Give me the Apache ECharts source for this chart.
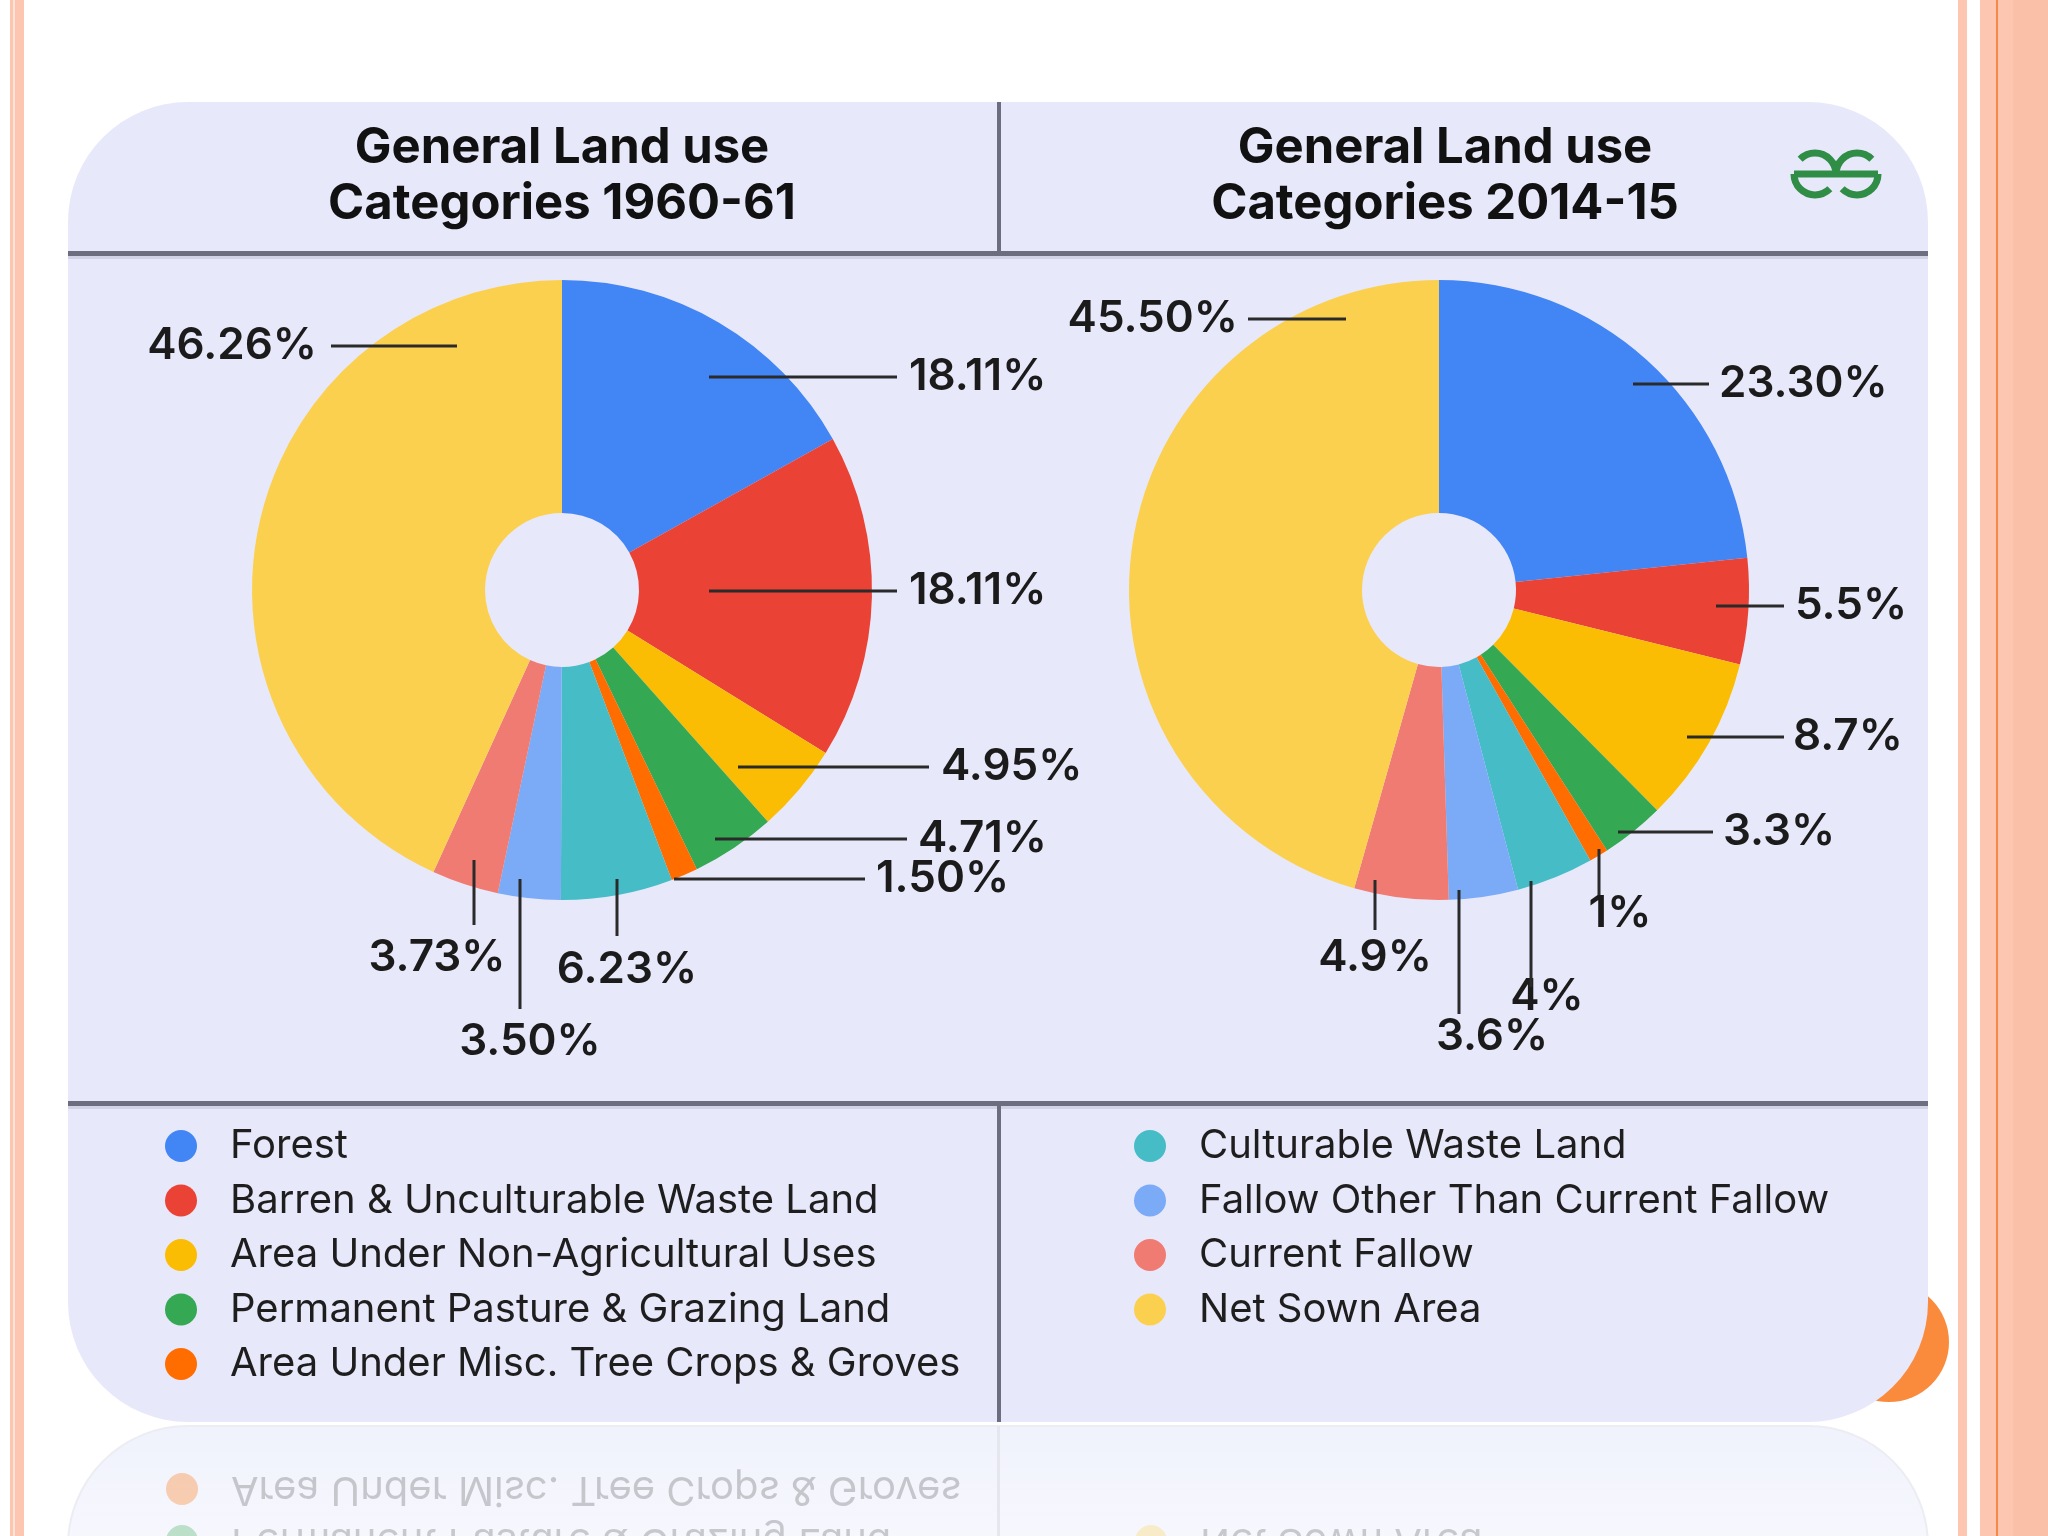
<!DOCTYPE html>
<html>
<head>
<meta charset="utf-8">
<script src="https://cdn.jsdelivr.net/npm/echarts@6/dist/echarts.min.js"></script>
</head>
<body style="margin:0; background:#ffffff">
<div id="main" style="width:2048px; height:1536px;"></div>
<script>
// land use categories, same order in both pies (clockwise from 12 o'clock)
var categories = [
  'Forest',
  'Barren & Unculturable Waste Land',
  'Area Under Non-Agricultural Uses',
  'Permanent Pasture & Grazing Land',
  'Area Under Misc. Tree Crops & Groves',
  'Culturable Waste Land',
  'Fallow Other Than Current Fallow',
  'Current Fallow',
  'Net Sown Area'
];
var share1960 = [18.11, 18.11, 4.95, 4.71, 1.50, 6.23, 3.50, 3.73, 46.26];
var share2014 = [23.30, 5.5, 8.7, 3.3, 1, 4, 3.6, 4.9, 45.50];
// labels as printed on the slide
var text1960 = ['18.11%', '18.11%', '4.95%', '4.71%', '1.50%', '6.23%', '3.50%', '3.73%', '46.26%'];
var text2014 = ['23.30%', '5.5%', '8.7%', '3.3%', '1%', '4%', '3.6%', '4.9%', '45.50%'];

var colors = ['#4285f4', '#ea4335', '#fbbc04', '#34a853', '#ff6d01', '#46bdc6', '#7baaf7', '#f07b72', '#fcd04f'];

var font = 'Inter, "Open Sans", sans-serif';
var pieR = [77, 310];
var centers = [[562, 590], [1439, 590]];

// leader lines, relative to pie centre: [x1, y1, x2, y2, labelX, labelY, align]
var leaders = [
  [
    [147, -213, 335, -213, 347, -213, 'left'],
    [147, 1, 335, 1, 347, 1, 'left'],
    [176, 177, 367, 177, 379, 177, 'left'],
    [153, 249, 345, 249, 356, 249, 'left'],
    [112, 289, 303, 289, 314, 289, 'left'],
    [55, 289, 55, 346, 65, 380, 'center'],
    [-42, 289, -42, 419, -32, 452, 'center'],
    [-88, 270, -88, 335, -125, 368, 'center'],
    [-105, -244, -231, -244, -245, -244, 'right']
  ],
  [
    [194, -206, 270, -206, 280, -206, 'left'],
    [277, 16, 345, 16, 356, 16, 'left'],
    [248, 147, 345, 147, 354, 147, 'left'],
    [179, 242, 274, 242, 284, 242, 'left'],
    [160, 259, 160, 305, 181, 324, 'center'],
    [92, 291, 92, 397, 108, 407, 'center'],
    [20, 300, 20, 424, 53, 447, 'center'],
    [-64, 290, -64, 340, -64, 368, 'center'],
    [-93, -271, -191, -271, -201, -271, 'right']
  ]
];

function pieData(values) {
  return values.map(function (v, i) {
    return { name: categories[i], value: v };
  });
}

function leaderLayout(p) {
  var c = centers[p.seriesIndex];
  var s = leaders[p.seriesIndex][p.dataIndex];
  return {
    x: c[0] + s[4],
    y: c[1] + s[5],
    align: s[6],
    verticalAlign: 'middle',
    labelLinePoints: [[c[0] + s[0], c[1] + s[1]], [c[0] + s[2], c[1] + s[3]]]
  };
}

function pieSeries(idx, values, texts) {
  return {
    type: 'pie',
    center: centers[idx],
    radius: pieR,
    startAngle: 90,
    silent: true,
    avoidLabelOverlap: false,
    data: pieData(values),
    label: {
      show: true,
      position: 'outside',
      formatter: function (p) { return texts[p.dataIndex]; },
      color: '#1b1b1b',
      fontFamily: font,
      fontSize: 44,
      fontWeight: 600
    },
    labelLine: { show: true, showAbove: true, lineStyle: { color: '#2a2a2a', width: 3 } },
    labelLayout: leaderLayout,
    emphasis: { disabled: true }
  };
}

var legendText = { fontFamily: font, fontSize: 40, color: '#1e1e1e' };

// mirrored rows of the legend (slide reflection under the card)
function mirrorRow(x, y, color, txt) {
  return [
    { type: 'circle', shape: { cx: x, cy: y, r: 16 }, style: { fill: color, opacity: 0.3 }, z: 3 },
    { type: 'text', x: x + 49, y: y, scaleY: -1, z: 3,
      style: { text: txt, fill: '#1e1e1e', opacity: 0.22, fontFamily: font, fontSize: 40, verticalAlign: 'middle', textVerticalAlign: 'middle' } }
  ];
}

var logoStyle = { fill: null, stroke: '#2f8d46', lineWidth: 7 };
var PI = Math.PI;

var deco = [
  // slide border stripes
  { type: 'rect', shape: { x: 10, y: 0, width: 3, height: 1536 }, style: { fill: '#fcc6b1' }, z: 0 },
  { type: 'rect', shape: { x: 13, y: 0, width: 2, height: 1536 }, style: { fill: '#fde4da' }, z: 0 },
  { type: 'rect', shape: { x: 15, y: 0, width: 9, height: 1536 }, style: { fill: '#fcc6b1' }, z: 0 },
  { type: 'rect', shape: { x: 1958, y: 0, width: 9, height: 1536 }, style: { fill: '#fcc6b1' }, z: 0 },
  { type: 'rect', shape: { x: 1980, y: 0, width: 68, height: 1536 }, style: { fill: '#fcc6b1' }, z: 0 },
  { type: 'rect', shape: { x: 2013, y: 0, width: 35, height: 1536 }, style: { fill: '#fbc0a8' }, z: 0 },
  { type: 'rect', shape: { x: 1996, y: 0, width: 2, height: 1536 }, style: { fill: '#f5894a' }, z: 0 },
  // orange disc peeking behind the card
  { type: 'circle', shape: { cx: 1889, cy: 1342, r: 60 }, style: { fill: '#fa8b3c' }, z: 0 },
  // reflection of the card
  { type: 'rect', shape: { x: 68, y: 1426, width: 1860, height: 400, r: 120 },
    style: { fill: new echarts.graphic.LinearGradient(0, 0, 0, 1, [{ offset: 0, color: '#f0f2fc' }, { offset: 0.3, color: '#f7f8fe' }, { offset: 1, color: '#ffffff' }]),
      stroke: '#ececf3', lineWidth: 2 }, z: 1 },
  { type: 'rect', shape: { x: 997, y: 1426, width: 3, height: 110 }, style: { fill: '#e6e6ef' }, z: 2 },
  // the card
  { type: 'rect', shape: { x: 68, y: 102, width: 1860, height: 1320, r: 120 }, style: { fill: '#e8e8fb' }, z: 1 },
  { type: 'rect', shape: { x: 68, y: 256, width: 1860, height: 3 }, style: { fill: '#d2d2e6' }, z: 2 },
  { type: 'rect', shape: { x: 68, y: 251, width: 1860, height: 5 }, style: { fill: '#6c6e80' }, z: 2 },
  { type: 'rect', shape: { x: 68, y: 1106, width: 1860, height: 3 }, style: { fill: '#d2d2e6' }, z: 2 },
  { type: 'rect', shape: { x: 68, y: 1101, width: 1860, height: 5 }, style: { fill: '#6c6e80' }, z: 2 },
  { type: 'rect', shape: { x: 997, y: 102, width: 4, height: 150 }, style: { fill: '#6c6e80' }, z: 2 },
  { type: 'rect', shape: { x: 997, y: 1104, width: 4, height: 318 }, style: { fill: '#6c6e80' }, z: 2 },
  // titles
  { type: 'text', x: 562, y: 176, z: 5,
    style: { text: 'General Land use\nCategories 1960-61', fill: '#111111', fontFamily: font, fontSize: 49, fontWeight: 700,
      lineHeight: 56, align: 'center', textAlign: 'center', verticalAlign: 'middle', textVerticalAlign: 'middle' } },
  { type: 'text', x: 1445, y: 176, z: 5,
    style: { text: 'General Land use\nCategories 2014-15', fill: '#111111', fontFamily: font, fontSize: 49, fontWeight: 700,
      lineHeight: 56, align: 'center', textAlign: 'center', verticalAlign: 'middle', textVerticalAlign: 'middle' } }
];

deco = deco.concat(
  mirrorRow(182, 1489, colors[4], categories[4]),
  mirrorRow(182, 1541, colors[3], categories[3]),
  mirrorRow(1151, 1541, colors[8], categories[8]),
  [
    // GfG logo: two mirrored hooks on a shared bar
    { type: 'arc', z: 5, shape: { cx: 1815, cy: 174, r: 21, startAngle: -3 * PI / 4, endAngle: 0, clockwise: true }, style: logoStyle },
    { type: 'arc', z: 5, shape: { cx: 1815, cy: 174, r: 21, startAngle: PI / 4, endAngle: PI, clockwise: true }, style: logoStyle },
    { type: 'arc', z: 5, shape: { cx: 1857, cy: 174, r: 21, startAngle: PI, endAngle: 7 * PI / 4, clockwise: true }, style: logoStyle },
    { type: 'arc', z: 5, shape: { cx: 1857, cy: 174, r: 21, startAngle: 0, endAngle: 3 * PI / 4, clockwise: true }, style: logoStyle },
    { type: 'line', z: 5, shape: { x1: 1794, y1: 174, x2: 1878, y2: 174 }, style: { stroke: '#2f8d46', lineWidth: 7 } }
  ]
);

var chart = echarts.init(document.getElementById('main'));
var option = {
  animation: false,
  backgroundColor: '#ffffff',
  color: colors,
  graphic: { elements: deco },
  legend: [
    { data: categories.slice(0, 5), orient: 'vertical', left: 160, top: 1121, itemWidth: 88, itemHeight: 32,
      itemGap: 14.5, icon: 'circle', selectedMode: false, textStyle: legendText },
    { data: categories.slice(5), orient: 'vertical', left: 1129, top: 1121, itemWidth: 88, itemHeight: 32,
      itemGap: 14.5, icon: 'circle', selectedMode: false, textStyle: legendText }
  ],
  series: [
    pieSeries(0, share1960, text1960),
    pieSeries(1, share2014, text2014)
  ]
};
chart.setOption(option);

// leader lines start inside the slices, so lift them over the sectors
var zr = chart.getZr();
zr.storage.getDisplayList(true).forEach(function (el) {
  if (el.type === 'polyline' && el.__hostTarget) {
    el.z2 = 100;
    el.markRedraw();
  }
});
zr.refreshImmediately();
</script>
</body>
</html>
